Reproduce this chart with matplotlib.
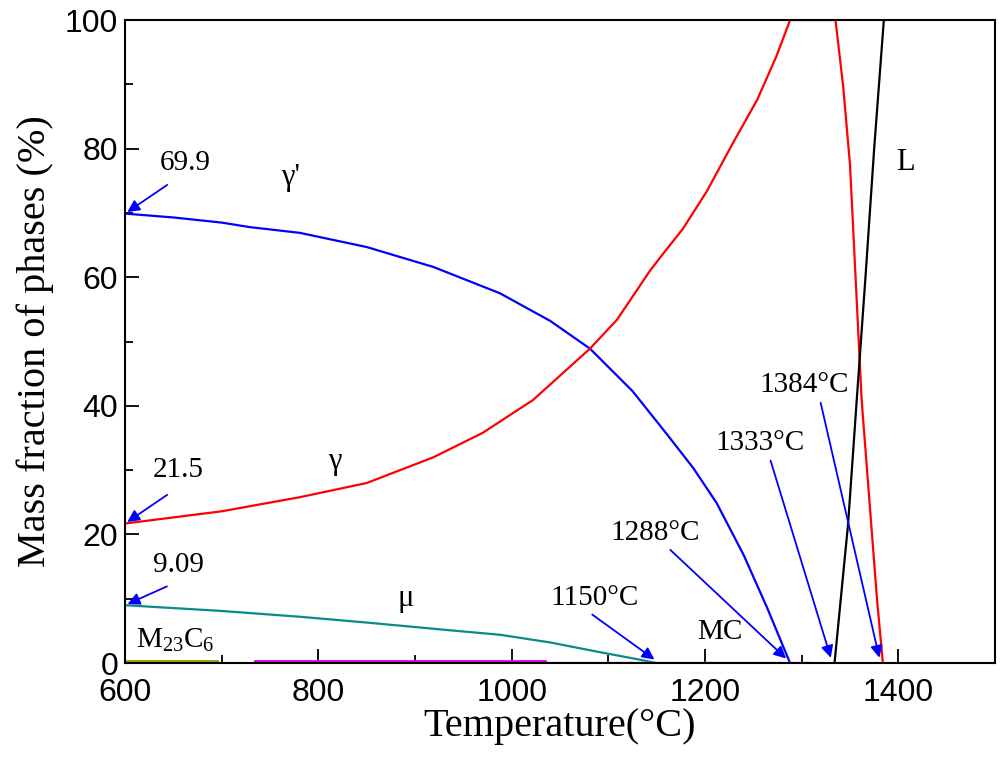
import numpy as np
import matplotlib
matplotlib.use("Agg")
import matplotlib.pyplot as plt
from matplotlib.ticker import MultipleLocator

# phase fractions
gp_T = [600, 650, 700, 729, 781, 850, 919, 988, 1040, 1081, 1125, 1160, 1188, 1212, 1240, 1264, 1288]
gp_f = [69.9, 69.3, 68.5, 67.8, 66.9, 64.7, 61.6, 57.5, 53.2, 48.9, 42.3, 35.7, 30.3, 24.9, 16.8, 8.7, 0.0]

g_T = [600, 700, 781, 850, 919, 970, 1022, 1081, 1109, 1143, 1160, 1177, 1202, 1229, 1254, 1274, 1288,
       1335, 1343, 1350, 1362, 1378, 1384]
g_f = [21.7, 23.6, 25.8, 28.0, 32.0, 35.8, 40.9, 48.9, 53.4, 61.0, 64.3, 67.5, 73.4, 80.9, 87.6, 94.4, 100.0,
       100.0, 89.6, 77.5, 41.0, 9.8, 0.0]

mu_T = [600, 700, 781, 850, 936, 988, 1040, 1091, 1130, 1150]
mu_f = [9.0, 8.1, 7.2, 6.3, 5.1, 4.4, 3.2, 1.7, 0.6, 0.0]

liq_T = [1334, 1348, 1357, 1366, 1375, 1385]
liq_f = [0.0, 21.6, 41.0, 60.0, 80.0, 100.0]

m23_T = [600, 695]
m23_f = [0.25, 0.25]
mag_T = [734, 1034]
mag_f = [0.25, 0.25]
mc_T = [1034, 1310]
mc_f = [0.15, 0.15]

plt.rcParams['font.family'] = ['Liberation Serif', 'DejaVu Serif']
plt.rcParams['mathtext.fontset'] = 'custom'
plt.rcParams['mathtext.rm'] = 'Liberation Serif'
plt.rcParams['mathtext.it'] = 'Liberation Serif:italic'

fig = plt.figure(figsize=(10, 7.71), dpi=100)
ax = fig.add_axes([0.125, 0.14, 0.87, 0.834])

ax.plot(gp_T, gp_f, color='blue', lw=1.6)
ax.plot(g_T, g_f, color='red', lw=1.6)
ax.plot(mu_T, mu_f, color='#0a8a8a', lw=1.6)
ax.plot(liq_T, liq_f, color='black', lw=1.6)
ax.plot(m23_T, m23_f, color='#9a9a00', lw=2)
ax.plot(mag_T, mag_f, color='#e000e0', lw=2)
ax.plot(mc_T, mc_f, color='#f080f0', lw=1)

ax.set_xlim(600, 1500)
ax.set_ylim(0, 100)
ax.xaxis.set_major_locator(MultipleLocator(200))
ax.xaxis.set_minor_locator(MultipleLocator(100))
ax.yaxis.set_major_locator(MultipleLocator(20))
ax.yaxis.set_minor_locator(MultipleLocator(10))
ax.tick_params(axis='x', which='major', direction='in', length=10, width=1.3, pad=11,
               labelsize=23, labelfontfamily='Liberation Sans')
ax.tick_params(axis='y', which='major', direction='in', length=10, width=1.3, pad=5,
               labelsize=23, labelfontfamily='Liberation Sans')
ax.tick_params(which='minor', direction='in', length=6, width=1.3)
for s in ax.spines.values():
    s.set_linewidth(1.5)

ax.set_xlabel('Temperature(\u00b0C)', fontsize=29, labelpad=0)
ax.set_ylabel('Mass fraction of phases (%)', fontsize=29, labelpad=8)

arr = dict(arrowstyle='-|>', color='blue', lw=1.3, mutation_scale=18)
notes = [
    ('69.9', (662, 77.8), (646, 74.6), (600, 69.9)),
    ('21.5', (655, 30.0), (646, 26.4), (600, 21.7)),
    ('9.09', (655, 15.2), (646, 12.1), (600, 9.0)),
    ('1150\u00b0C', (1086, 10.1), (1081, 7.8), (1150, 0.3)),
    ('1288\u00b0C', (1148, 20.2), (1162, 17.9), (1286, 0.4)),
    ('1333\u00b0C', (1257, 34.2), (1267, 31.9), (1331, 0.4)),
    ('1384\u00b0C', (1303, 43.2), (1319, 40.9), (1381, 0.4)),
]
for txt, tpos, start, end in notes:
    ax.text(tpos[0], tpos[1], txt, fontsize=21, ha='center', va='center')
    ax.annotate('', xy=end, xytext=start, arrowprops=arr)

ax.text(771, 75.5, "\u03b3'", fontsize=22, ha='center', va='center')
ax.text(817, 31.3, '\u03b3', fontsize=22, ha='center', va='center')
ax.text(890, 10.1, '\u03bc', fontsize=22, ha='center', va='center')
ax.text(1215, 4.8, 'MC', fontsize=21, ha='center', va='center')
ax.text(652, 3.6, 'M$_{23}$C$_6$', fontsize=21, ha='center', va='center')
ax.text(1407, 77.9, 'L', fontsize=22, ha='center', va='center')

fig.savefig('out.png', dpi=100)
